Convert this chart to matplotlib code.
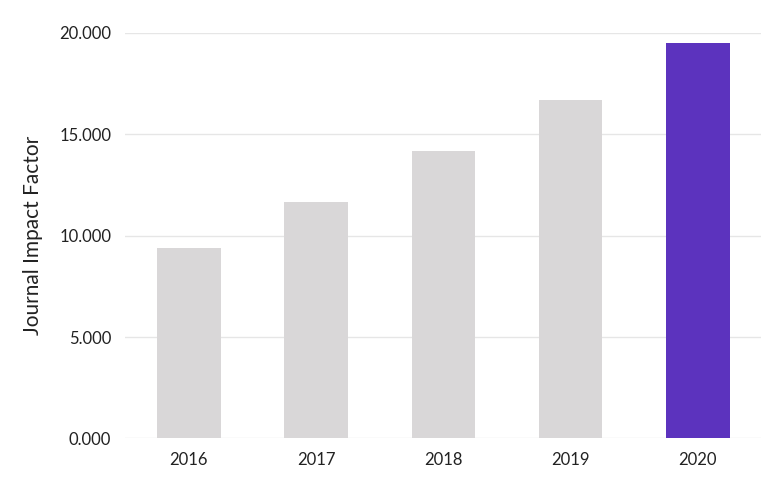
import matplotlib
matplotlib.use("Agg")
import matplotlib.pyplot as plt

years = ["2016", "2017", "2018", "2019", "2020"]
values = [9.40, 11.64, 14.18, 16.67, 19.50]
colors = ["#d9d7d8", "#d9d7d8", "#d9d7d8", "#d9d7d8", "#5c33be"]
yticks = [0, 5, 10, 15, 20]

plt.rcParams['font.family'] = ['Lato', 'DejaVu Sans']
fig = plt.figure(figsize=(7.73, 4.91), dpi=100)
ax = fig.add_axes([0.162, 0.107, 0.823, 0.826])
x = list(range(len(years)))
ax.bar(x, values, width=0.5, color=colors, zorder=3)
ax.set_xticks(x)
ax.set_xticklabels(years, fontsize=12, color="#222222")
ax.set_yticks(yticks)
ax.set_yticklabels([f"{v:.3f}".replace(".", ".") for v in yticks], fontsize=12, color="#222222")
ax.set_ylim(0, 20)
ax.set_xlim(-0.5, 4.5)
ax.grid(axis="y", color="#e6e6e6", linewidth=1, zorder=0)
for s in ax.spines.values():
    s.set_visible(False)
ax.tick_params(length=0, pad=10)
ax.set_ylabel("Journal Impact Factor", fontsize=15, color="#222222", labelpad=12)
ax.set_axisbelow(True)
fig.savefig("out.png", dpi=100)
